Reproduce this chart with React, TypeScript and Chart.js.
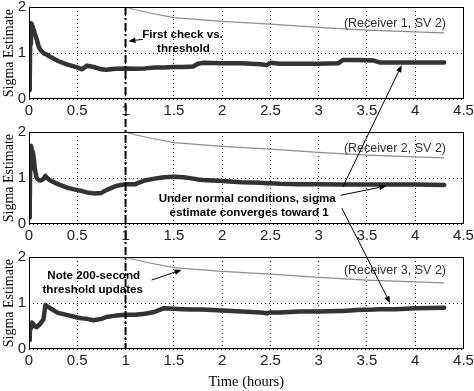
import React, { useEffect, useRef } from "react";
import { Chart, registerables } from "chart.js";

Chart.register(...registerables);

// ---------------- data ----------------
const timeHours = [
  0.003, 0.008, 0.012, 0.02, 0.03, 0.04, 0.05, 0.06, 0.08, 0.1,
  0.12, 0.15, 0.17, 0.19, 0.22, 0.3, 0.4, 0.5, 0.55, 0.6,
  0.67, 0.75, 0.8, 0.9, 1.0, 1.1, 1.2, 1.3, 1.4, 1.5,
  1.6, 1.7, 1.75, 1.8, 2.0, 2.2, 2.4, 2.46, 2.5, 2.6,
  2.8, 3.0, 3.2, 3.25, 3.4, 3.57, 3.63, 3.8, 4.0, 4.3,
];

const sigmaRx1 = [
  0.2, 0.45, 1.2, 1.65, 1.62, 1.55, 1.5, 1.42, 1.3, 1.14,
  1.07, 1.0, 0.98, 0.96, 0.92, 0.83, 0.75, 0.69, 0.65, 0.73,
  0.7, 0.65, 0.64, 0.66, 0.67, 0.66, 0.67, 0.69, 0.69, 0.7,
  0.7, 0.71, 0.77, 0.79, 0.78, 0.78, 0.76, 0.74, 0.79, 0.77,
  0.77, 0.77, 0.78, 0.85, 0.85, 0.84, 0.8, 0.8, 0.8, 0.8,
];

const sigmaRx2 = [
  0.15, 0.5, 1.2, 1.7, 1.62, 1.55, 1.43, 1.2, 1.0, 0.96,
  0.95, 0.98, 1.05, 1.0, 0.95, 0.87, 0.79, 0.74, 0.72, 0.69,
  0.67, 0.68, 0.74, 0.83, 0.87, 0.87, 0.95, 0.99, 1.02, 1.03,
  1.02, 0.99, 0.97, 0.96, 0.94, 0.91, 0.9, 0.89, 0.89, 0.88,
  0.87, 0.87, 0.86, 0.86, 0.86, 0.86, 0.86, 0.86, 0.86, 0.85,
];

const sigmaRx3 = [
  0.2, 0.35, 0.45, 0.53, 0.58, 0.56, 0.53, 0.5, 0.48, 0.52,
  0.56, 0.65, 0.96, 0.93, 0.89, 0.79, 0.74, 0.69, 0.67, 0.66,
  0.63, 0.66, 0.7, 0.73, 0.75, 0.75, 0.77, 0.81, 0.89, 0.88,
  0.87, 0.86, 0.86, 0.86, 0.84, 0.82, 0.8, 0.78, 0.8, 0.8,
  0.82, 0.82, 0.83, 0.83, 0.85, 0.86, 0.87, 0.87, 0.89, 0.9,
];

const thresholdHours = [1.0, 1.1, 1.25, 1.5, 2.0, 2.5, 3.0, 3.5, 4.0, 4.3];
const thresholdRx = [2.0, 1.94, 1.87, 1.77, 1.69, 1.63, 1.56, 1.5, 1.46, 1.44];

const sigmaSeries = [sigmaRx1, sigmaRx2, sigmaRx3];
const panelLabels = ["(Receiver 1, SV 2)", "(Receiver 2, SV 2)", "(Receiver 3, SV 2)"];
const panelLabelX = [3.79, 3.79, 3.79];
const panelLabelY = [1.65, 1.65, 1.71];

const X_MIN = 0;
const X_MAX = 4.5;
const X_STEP = 0.5;
const Y_MIN = 0;
const Y_MAX = 2;
const Y_STEP = 1;
const FIRST_CHECK_HOURS = 1;

// annotation notes: [panel, x, y]
const noteTexts = [
  { panel: 0, x: 1.59, y: 1.39, text: "First check vs." },
  { panel: 0, x: 1.6, y: 1.09, text: "threshold" },
  { panel: 1, x: 2.26, y: 0.55, text: "Under normal conditions, sigma" },
  { panel: 1, x: 2.28, y: 0.26, text: "estimate converges toward 1" },
  { panel: 2, x: 0.67, y: 1.59, text: "Note 200-second" },
  { panel: 2, x: 0.66, y: 1.28, text: "threshold updates" },
];

const noteArrows = [
  { from: [0, 1.18, 1.3], to: [0, 1.03, 1.26] },
  { from: [1, 3.25, 0.81], to: [0, 3.86, 0.74] },
  { from: [1, 3.23, 0.63], to: [1, 3.7, 0.83] },
  { from: [1, 3.24, 0.35], to: [2, 3.74, 1.0] },
  { from: [2, 1.27, 1.5], to: [2, 1.58, 1.72] },
];

// ---------------- layout ----------------
const W = 474;
const H = 391;
const PLOT_LEFT = 29;
const PLOT_RIGHT = 463.5;
const PANEL_TOPS = [7, 132, 257];
const PANEL_H = 92.3;
const SANS = '"Liberation Sans", Arial, Helvetica, sans-serif';
const SERIF = '"Liberation Serif", "Times New Roman", Times, serif';

function drawArrow(ctx: CanvasRenderingContext2D, x1: number, y1: number, x2: number, y2: number) {
  const ang = Math.atan2(y2 - y1, x2 - x1);
  const head = 7;
  const half = 2.8;
  const bx = x2 - head * Math.cos(ang);
  const by = y2 - head * Math.sin(ang);
  ctx.beginPath();
  ctx.moveTo(x1, y1);
  ctx.lineTo(bx, by);
  ctx.stroke();
  ctx.beginPath();
  ctx.moveTo(x2, y2);
  ctx.lineTo(bx + half * Math.sin(ang), by - half * Math.cos(ang));
  ctx.lineTo(bx - half * Math.sin(ang), by + half * Math.cos(ang));
  ctx.closePath();
  ctx.fill();
}

const framePlugin = {
  id: "panelFrame",
  afterDraw(chart: any) {
    const { ctx, chartArea: a } = chart;
    ctx.save();
    ctx.strokeStyle = "#000";
    ctx.lineWidth = 1;
    ctx.setLineDash([]);
    const l = Math.round(a.left) + 0.5;
    const t = Math.round(a.top) + 0.5;
    const r = Math.round(a.right) - 0.5;
    const b = Math.round(a.bottom) - 0.5;
    ctx.strokeRect(l, t, r - l, b - t);
    ctx.restore();
  },
};

function makeOverlayPlugin(prev: any[]) {
  return {
    id: "overlayNotes",
    afterDraw(chart: any) {
      const charts = [prev[0], prev[1], chart];
      if (!charts[0] || !charts[1]) return;
      const px = (p: number, x: number) => charts[p].scales.x.getPixelForValue(x);
      const py = (p: number, y: number) => charts[p].scales.y.getPixelForValue(y);
      const ctx: CanvasRenderingContext2D = chart.ctx;
      ctx.save();

      // vertical first-check line
      const vx = px(0, FIRST_CHECK_HOURS);
      ctx.strokeStyle = "#000";
      ctx.lineWidth = 2;
      ctx.setLineDash([8, 3, 2, 3]);
      ctx.beginPath();
      ctx.moveTo(vx, charts[0].chartArea.top);
      ctx.lineTo(vx, charts[2].chartArea.bottom);
      ctx.stroke();
      ctx.setLineDash([]);

      // receiver labels
      ctx.fillStyle = "#333";
      ctx.font = `12.5px ${SANS}`;
      ctx.textAlign = "center";
      ctx.textBaseline = "middle";
      panelLabels.forEach((lab, i) => {
        ctx.fillText(lab, px(i, panelLabelX[i]), py(i, panelLabelY[i]));
      });

      // note texts
      ctx.fillStyle = "#000";
      ctx.font = `bold 11.6px ${SANS}`;
      noteTexts.forEach((n) => {
        ctx.fillText(n.text, px(n.panel, n.x), py(n.panel, n.y));
      });

      // arrows
      ctx.strokeStyle = "#000";
      ctx.fillStyle = "#000";
      ctx.lineWidth = 1;
      noteArrows.forEach((a) => {
        drawArrow(
          ctx,
          px(a.from[0], a.from[1]),
          py(a.from[0], a.from[2]),
          px(a.to[0], a.to[1]),
          py(a.to[0], a.to[2])
        );
      });
      ctx.restore();
    },
  };
}

function makeConfig(i: number, extraPlugins: any[]) {
  const top = PANEL_TOPS[i];
  const bottom = top + PANEL_H;
  const xH = i === 2 ? H - bottom : 20;
  const tickFont = { family: SANS, size: 15 };
  return {
    type: "line",
    data: {
      datasets: [
        {
          data: thresholdHours.map((t, k) => ({ x: t, y: thresholdRx[k] })),
          borderColor: "#8c8c8c",
          borderWidth: 1.2,
          pointRadius: 0,
          tension: 0,
        },
        {
          data: timeHours.map((t, k) => ({ x: t, y: sigmaSeries[i][k] })),
          borderColor: "#333333",
          borderWidth: 4.5,
          pointRadius: 0,
          tension: 0,
          borderJoinStyle: "round",
          borderCapStyle: "round",
        },
      ],
    },
    options: {
      responsive: false,
      animation: false,
      events: [],
      layout: {
        padding: { top, left: 0, right: W - PLOT_RIGHT, bottom: H - bottom - xH },
      },
      plugins: {
        legend: { display: false },
        tooltip: { enabled: false },
      },
      scales: {
        x: {
          type: "linear",
          min: X_MIN,
          max: X_MAX,
          ticks: {
            stepSize: X_STEP,
            padding: 3,
            color: "#222",
            font: tickFont,
            maxRotation: 0,
            autoSkip: false,
            callback: (v: any) => String(Math.round(Number(v) * 10) / 10),
          },
          grid: { color: "#000", lineWidth: 1, drawTicks: false },
          border: { display: false, dash: [1, 3] },
          title:
            i === 2
              ? {
                  display: true,
                  text: "Time (hours)",
                  color: "#000",
                  font: { family: SERIF, size: 14.5 },
                  padding: { top: 0, bottom: 0.6 },
                }
              : { display: false },
          afterFit: (s: any) => {
            s.height = xH;
            s.paddingLeft = 0;
            s.paddingRight = 0;
          },
        },
        y: {
          type: "linear",
          min: Y_MIN,
          max: Y_MAX,
          ticks: {
            stepSize: Y_STEP,
            padding: 3,
            color: "#222",
            font: tickFont,
            callback: (v: any) => String(Math.round(Number(v) * 10) / 10),
          },
          grid: { color: "#000", lineWidth: 1, drawTicks: false },
          border: { display: false, dash: [1, 3] },
          title: {
            display: true,
            text: "Sigma Estimate",
            color: "#000",
            font: { family: SERIF, size: 14 },
            padding: { top: 0.6, bottom: 0 },
          },
          afterFit: (s: any) => {
            s.width = PLOT_LEFT;
            s.paddingTop = 0;
            s.paddingBottom = 0;
          },
        },
      },
    },
    plugins: [framePlugin, ...extraPlugins],
  };
}

export default function App() {
  const c1 = useRef<HTMLCanvasElement>(null);
  const c2 = useRef<HTMLCanvasElement>(null);
  const c3 = useRef<HTMLCanvasElement>(null);

  useEffect(() => {
    const prev: any[] = [];
    const ch1 = new Chart(c1.current as HTMLCanvasElement, makeConfig(0, []) as any);
    prev.push(ch1);
    const ch2 = new Chart(c2.current as HTMLCanvasElement, makeConfig(1, []) as any);
    prev.push(ch2);
    const ch3 = new Chart(
      c3.current as HTMLCanvasElement,
      makeConfig(2, [makeOverlayPlugin(prev)]) as any
    );
    return () => {
      ch1.destroy();
      ch2.destroy();
      ch3.destroy();
    };
  }, []);

  const cs: React.CSSProperties = { position: "absolute", left: 0, top: 0 };
  return (
    <div
      style={{
        position: "fixed",
        left: 0,
        top: 0,
        width: W,
        height: H,
        background: "#fff",
      }}
    >
      <canvas ref={c1} width={W} height={H} style={cs} />
      <canvas ref={c2} width={W} height={H} style={cs} />
      <canvas ref={c3} width={W} height={H} style={cs} />
    </div>
  );
}
